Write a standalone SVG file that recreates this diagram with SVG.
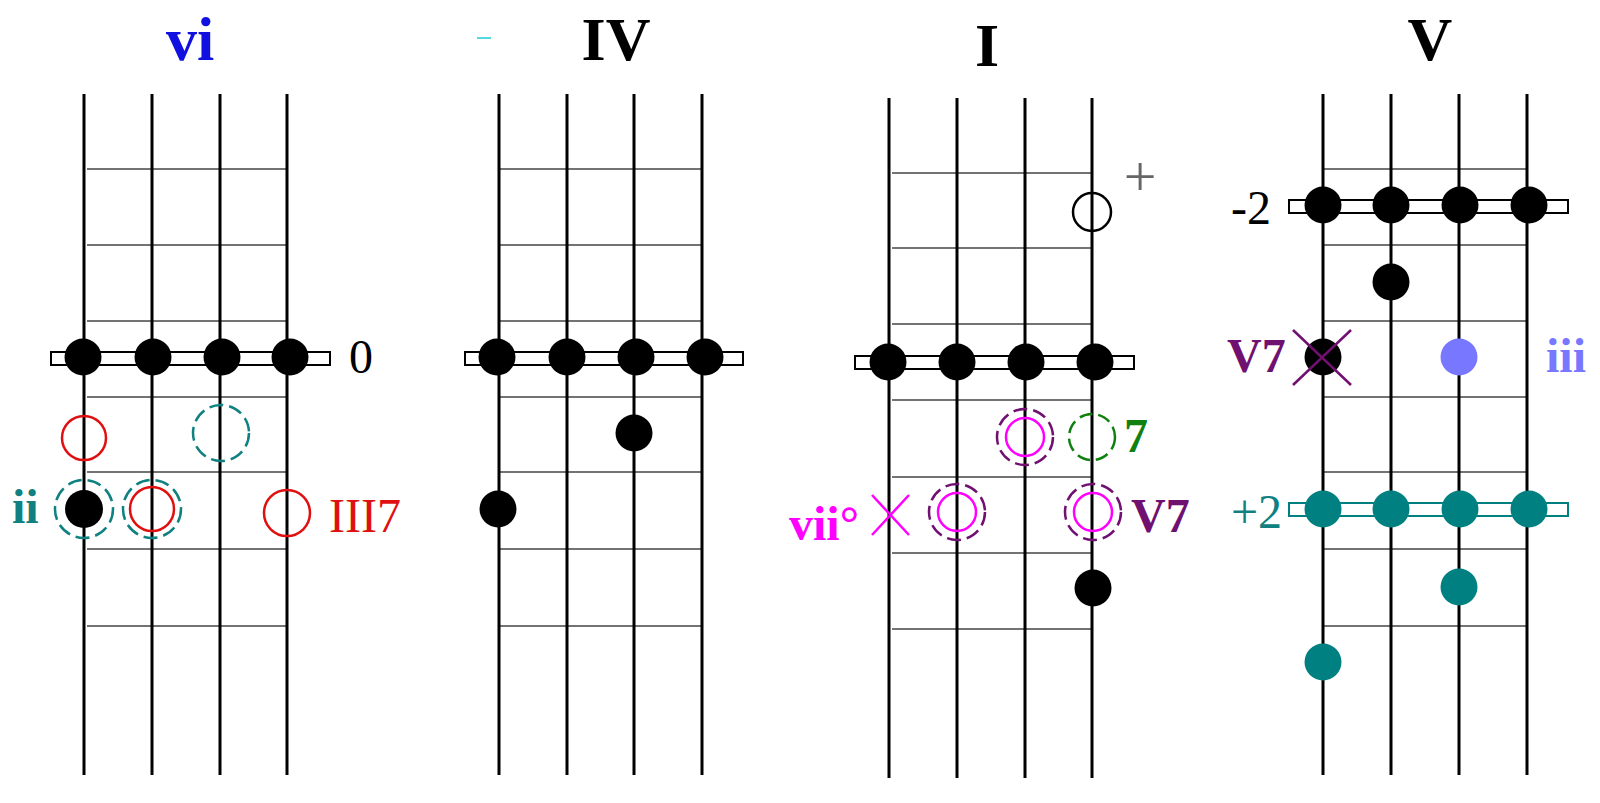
<svg xmlns="http://www.w3.org/2000/svg" width="1600" height="803" viewBox="0 0 1600 803">
<style>
.str{stroke:#000;stroke-width:3}
.fret{stroke:#444;stroke-width:1.5}
.bar{fill:#fff;stroke:#000;stroke-width:2}
.tbar{fill:#fff;stroke:#008080;stroke-width:2}
.dot{fill:#000}
.tdot{fill:#008080}
.title{font-family:"Liberation Serif",serif;font-weight:bold;font-size:62px;text-anchor:middle}
.lbl{font-family:"Liberation Serif",serif;font-size:48px}
.b{font-weight:bold}
.red{fill:none;stroke:#e01010;stroke-width:2.5}
.tdash{fill:none;stroke:#108080;stroke-width:2.5;stroke-dasharray:14 6}
.mag{fill:none;stroke:#ff00ff;stroke-width:2.5}
.pdash{fill:none;stroke:#701070;stroke-width:2.5;stroke-dasharray:14 6}
.gdash{fill:none;stroke:#108010;stroke-width:2.5;stroke-dasharray:13 6}
</style>
<rect width="1600" height="803" fill="#fff"/>

<g id="chart-vi">
<text class="title" x="190" y="60" fill="#1010e0">vi</text>
<g class="fret">
<line x1="87" y1="169" x2="287" y2="169"/><line x1="87" y1="245" x2="287" y2="245"/><line x1="87" y1="321" x2="287" y2="321"/><line x1="87" y1="397" x2="287" y2="397"/><line x1="87" y1="472" x2="287" y2="472"/><line x1="87" y1="549" x2="287" y2="549"/><line x1="87" y1="626" x2="287" y2="626"/>
</g>
<g class="str">
<line x1="84" y1="94" x2="84" y2="775"/><line x1="152" y1="94" x2="152" y2="775"/><line x1="220" y1="94" x2="220" y2="775"/><line x1="287" y1="94" x2="287" y2="775"/>
</g>
<rect class="bar" x="51" y="352" width="279" height="13"/>
<circle class="dot" cx="83" cy="357" r="18.5"/><circle class="dot" cx="153" cy="357" r="18.5"/><circle class="dot" cx="222" cy="357" r="18.5"/><circle class="dot" cx="290" cy="357" r="18.5"/>
<text class="lbl" x="349" y="373">0</text>
<circle class="red" cx="84" cy="438" r="22"/>
<circle class="tdash" cx="221" cy="433" r="28"/>
<circle class="dot" cx="84" cy="509" r="19"/>
<circle class="tdash" cx="84" cy="509" r="29"/>
<circle class="red" cx="152" cy="509" r="22"/>
<circle class="tdash" cx="152" cy="509" r="29"/>
<circle class="red" cx="287" cy="513" r="23"/>
<text class="lbl b" x="12" y="523" fill="#108080" font-size="44">ii</text>
<text class="lbl" x="329" y="532" fill="#e01010" font-size="50">III7</text>
</g>

<g id="chart-IV">
<line x1="477" y1="38" x2="491" y2="38" stroke="#55d8e0" stroke-width="2"/>
<text class="title" x="616" y="60" fill="#000">IV</text>
<g class="fret">
<line x1="499" y1="169" x2="702" y2="169"/><line x1="499" y1="245" x2="702" y2="245"/><line x1="499" y1="321" x2="702" y2="321"/><line x1="499" y1="397" x2="702" y2="397"/><line x1="499" y1="472" x2="702" y2="472"/><line x1="499" y1="549" x2="702" y2="549"/><line x1="499" y1="626" x2="702" y2="626"/>
</g>
<g class="str">
<line x1="499" y1="94" x2="499" y2="775"/><line x1="567" y1="94" x2="567" y2="775"/><line x1="634" y1="94" x2="634" y2="775"/><line x1="702" y1="94" x2="702" y2="775"/>
</g>
<rect class="bar" x="465" y="352" width="278" height="13"/>
<circle class="dot" cx="497" cy="357" r="18.5"/><circle class="dot" cx="567" cy="357" r="18.5"/><circle class="dot" cx="636" cy="357" r="18.5"/><circle class="dot" cx="705" cy="357" r="18.5"/>
<circle class="dot" cx="634" cy="433" r="18.5"/>
<circle class="dot" cx="498" cy="509" r="18.5"/>
</g>

<g id="chart-I">
<text class="title" x="987" y="66" fill="#000">I</text>
<g class="fret">
<line x1="892" y1="173" x2="1091" y2="173"/><line x1="892" y1="248" x2="1091" y2="248"/><line x1="892" y1="324" x2="1091" y2="324"/><line x1="892" y1="400" x2="1091" y2="400"/><line x1="892" y1="477" x2="1091" y2="477"/><line x1="892" y1="553" x2="1091" y2="553"/><line x1="892" y1="629" x2="1091" y2="629"/>
</g>
<g class="str">
<line x1="889" y1="98" x2="889" y2="778"/><line x1="957" y1="98" x2="957" y2="778"/><line x1="1025" y1="98" x2="1025" y2="778"/><line x1="1092" y1="98" x2="1092" y2="778"/>
</g>
<circle cx="1092" cy="212" r="19" fill="none" stroke="#000" stroke-width="2.5"/>
<text x="1140" y="196" fill="#666" font-family="Liberation Serif,serif" font-size="58" text-anchor="middle">+</text>
<rect class="bar" x="855" y="356" width="279" height="13"/>
<circle class="dot" cx="888" cy="362" r="18.5"/><circle class="dot" cx="957" cy="362" r="18.5"/><circle class="dot" cx="1026" cy="362" r="18.5"/><circle class="dot" cx="1095" cy="362" r="18.5"/>
<circle class="mag" cx="1025" cy="437" r="19"/>
<circle class="pdash" cx="1025" cy="437" r="28"/>
<circle class="gdash" cx="1092" cy="437" r="23"/>
<text class="lbl b" x="1124" y="452" fill="#108010" font-size="44">7</text>
<line x1="872" y1="495" x2="909" y2="535" stroke="#ff00ff" stroke-width="2.5"/>
<line x1="909" y1="495" x2="872" y2="535" stroke="#ff00ff" stroke-width="2.5"/>
<text class="lbl b" x="789" y="540" fill="#ff00ff" font-size="47">vii°</text>
<circle class="mag" cx="957" cy="512" r="19"/>
<circle class="pdash" cx="957" cy="512" r="28"/>
<circle class="mag" cx="1093" cy="512" r="19"/>
<circle class="pdash" cx="1093" cy="512" r="28"/>
<text class="lbl b" x="1131" y="532" fill="#701070" font-size="48">V7</text>
<circle class="dot" cx="1093" cy="588" r="18.5"/>
</g>

<g id="chart-V">
<text class="title" x="1430" y="60" fill="#000">V</text>
<g class="fret">
<line x1="1323" y1="169" x2="1527" y2="169"/><line x1="1323" y1="245" x2="1527" y2="245"/><line x1="1323" y1="321" x2="1527" y2="321"/><line x1="1323" y1="397" x2="1527" y2="397"/><line x1="1323" y1="472" x2="1527" y2="472"/><line x1="1323" y1="549" x2="1527" y2="549"/><line x1="1323" y1="626" x2="1527" y2="626"/>
</g>
<g class="str">
<line x1="1323" y1="94" x2="1323" y2="775"/><line x1="1391" y1="94" x2="1391" y2="775"/><line x1="1459" y1="94" x2="1459" y2="775"/><line x1="1527" y1="94" x2="1527" y2="775"/>
</g>
<rect class="bar" x="1289" y="200" width="279" height="13"/>
<circle class="dot" cx="1323" cy="205" r="18.5"/><circle class="dot" cx="1391" cy="205" r="18.5"/><circle class="dot" cx="1460" cy="205" r="18.5"/><circle class="dot" cx="1529" cy="205" r="18.5"/>
<text class="lbl" x="1231" y="224" fill="#000">-2</text>
<circle class="dot" cx="1391" cy="282" r="18.5"/>
<circle class="dot" cx="1323" cy="357" r="18.5"/>
<line x1="1293" y1="330" x2="1351" y2="385" stroke="#701070" stroke-width="2.5"/>
<line x1="1351" y1="330" x2="1293" y2="385" stroke="#701070" stroke-width="2.5"/>
<text class="lbl b" x="1227" y="372" fill="#701070" font-size="48">V7</text>
<circle cx="1459" cy="357" r="18.5" fill="#7777ff"/>
<text class="lbl b" x="1546" y="372" fill="#7777ff" font-size="44">iii</text>
<rect class="tbar" x="1289" y="503" width="279" height="13"/>
<circle class="tdot" cx="1323" cy="509" r="18.5"/><circle class="tdot" cx="1391" cy="509" r="18.5"/><circle class="tdot" cx="1460" cy="509" r="18.5"/><circle class="tdot" cx="1529" cy="509" r="18.5"/>
<text class="lbl" x="1231" y="528" fill="#108080" font-size="50">+2</text>
<circle class="tdot" cx="1459" cy="587" r="18.5"/>
<circle class="tdot" cx="1323" cy="662" r="18.5"/>
</g>
<g id="connectors"/>
</svg>
